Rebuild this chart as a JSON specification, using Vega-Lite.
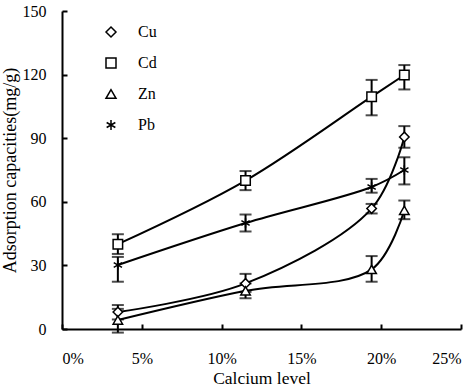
{
  "$schema": "https://vega.github.io/schema/vega-lite/v6.json",
  "width": 399,
  "height": 318,
  "autosize": "none",
  "padding": {"left": 62, "top": 11, "right": 13, "bottom": 63},
  "background": "white",
  "config": {
    "font": "Liberation Serif",
    "view": {"stroke": null},
    "axis": {
      "grid": false,
      "domainColor": "black",
      "domainWidth": 2,
      "tickColor": "black",
      "tickWidth": 2,
      "tickSize": -5,
      "labelColor": "black",
      "titleColor": "black",
      "labelFontSize": 16,
      "titleFontSize": 17.5,
      "titleFontWeight": "normal"
    }
  },
  "data": {
    "values": [
      {"metal": "Cu", "ca": 0.035, "v": 8, "lo": 4.5, "hi": 11.3},
      {"metal": "Cu", "ca": 0.115, "v": 21.5, "lo": 17.5, "hi": 26},
      {"metal": "Cu", "ca": 0.194, "v": 56.8, "lo": 54.5, "hi": 59},
      {"metal": "Cu", "ca": 0.2145, "v": 90.6, "lo": 85.5, "hi": 95.7},
      {"metal": "Cd", "ca": 0.035, "v": 40, "lo": 35.4, "hi": 44.7},
      {"metal": "Cd", "ca": 0.115, "v": 70, "lo": 65.5, "hi": 74.5},
      {"metal": "Cd", "ca": 0.194, "v": 109.6, "lo": 100.8, "hi": 117.5},
      {"metal": "Cd", "ca": 0.2145, "v": 119.8, "lo": 113, "hi": 124.5},
      {"metal": "Zn", "ca": 0.035, "v": 4.2, "lo": -1.7, "hi": 9.5},
      {"metal": "Zn", "ca": 0.115, "v": 18, "lo": 14.5, "hi": 21.5},
      {"metal": "Zn", "ca": 0.194, "v": 28.1, "lo": 22.3, "hi": 34.4},
      {"metal": "Zn", "ca": 0.2145, "v": 56, "lo": 51.8, "hi": 60.6},
      {"metal": "Pb", "ca": 0.035, "v": 30.2, "lo": 22.3, "hi": 34},
      {"metal": "Pb", "ca": 0.115, "v": 50, "lo": 46, "hi": 54},
      {"metal": "Pb", "ca": 0.194, "v": 67, "lo": 64.3, "hi": 70.8},
      {"metal": "Pb", "ca": 0.2145, "v": 75, "lo": 68.2, "hi": 81}
    ]
  },
  "encoding": {
    "x": {
      "field": "ca",
      "type": "quantitative",
      "scale": {"domain": [0, 0.25], "nice": false, "zero": false},
      "axis": {
        "values": [0, 0.05, 0.1, 0.15, 0.2, 0.25],
        "format": ".0%",
        "title": "Calcium level",
        "labelFont": "Liberation Serif",
        "titleFont": "Liberation Serif",
        "labelPadding": 26,
        "titlePadding": 3
      }
    }
  },
  "layer": [
    {
      "mark": {"type": "line", "interpolate": "catmull-rom", "color": "black", "strokeWidth": 2},
      "encoding": {
        "y": {
          "field": "v",
          "type": "quantitative",
          "title": "Adsorption capacities(mg/g)",
          "scale": {"domain": [0, 150], "nice": false},
          "axis": {
            "values": [0, 30, 60, 90, 120, 150],
            "labelFont": "Liberation Serif",
            "titleFont": "Liberation Serif",
            "titleFontSize": 18,
            "labelPadding": 21,
            "titleX": -43
          }
        },
        "detail": {"field": "metal"}
      }
    },
    {
      "mark": {"type": "errorbar", "ticks": {"size": 12}, "color": "black", "thickness": 2},
      "encoding": {
        "y": {"field": "lo", "type": "quantitative", "title": "Adsorption capacities(mg/g)"},
        "y2": {"field": "hi"}
      }
    },
    {
      "mark": {"type": "point", "filled": false, "fill": "white", "color": "black", "strokeWidth": 1.5, "size": 90, "opacity": 1},
      "encoding": {
        "y": {"field": "v", "type": "quantitative", "title": "Adsorption capacities(mg/g)"},
        "shape": {
          "field": "metal",
          "type": "nominal",
          "scale": {
            "domain": ["Cu", "Cd", "Zn", "Pb"],
            "range": ["diamond", "square", "triangle-up", "M0,-1L0,1M-0.87,-0.5L0.87,0.5M-0.87,0.5L0.87,-0.5"]
          },
          "legend": null
        },
        "color": {
          "field": "metal",
          "type": "nominal",
          "scale": {"domain": ["Cu", "Cd", "Zn", "Pb"], "range": ["black", "black", "black", "black"]},
          "legend": {
            "title": null,
            "orient": "none",
            "legendX": 41,
            "legendY": 13,
            "padding": 0,
            "symbolSize": 100,
            "symbolStrokeWidth": 1.5,
            "labelFontSize": 16,
            "labelColor": "black",
            "labelOffset": 19,
            "rowPadding": 15,
            "encode": {
              "symbols": {
                "shape": {"value": {"expr": "datum.value === 'Cu' ? 'M-4,0L-1,0M1,0L4,0M0,-1L1,0L0,1L-1,0Z' : datum.value === 'Cd' ? 'M-4,0L-0.9,0M0.9,0L4,0M-0.9,-0.9L0.9,-0.9L0.9,0.9L-0.9,0.9Z' : datum.value === 'Zn' ? 'M-4,0L-0.9,0M0.9,0L4,0M0,-1L1,0.8L-1,0.8Z' : 'M-4,0L4,0M0,-1L0,1M-0.87,-0.5L0.87,0.5M-0.87,0.5L0.87,-0.5'"}},
                "fill": {"value": "white"},
                "strokeWidth": {"value": 1.5}
              }
            }
          }
        }
      }
    }
  ]
}
